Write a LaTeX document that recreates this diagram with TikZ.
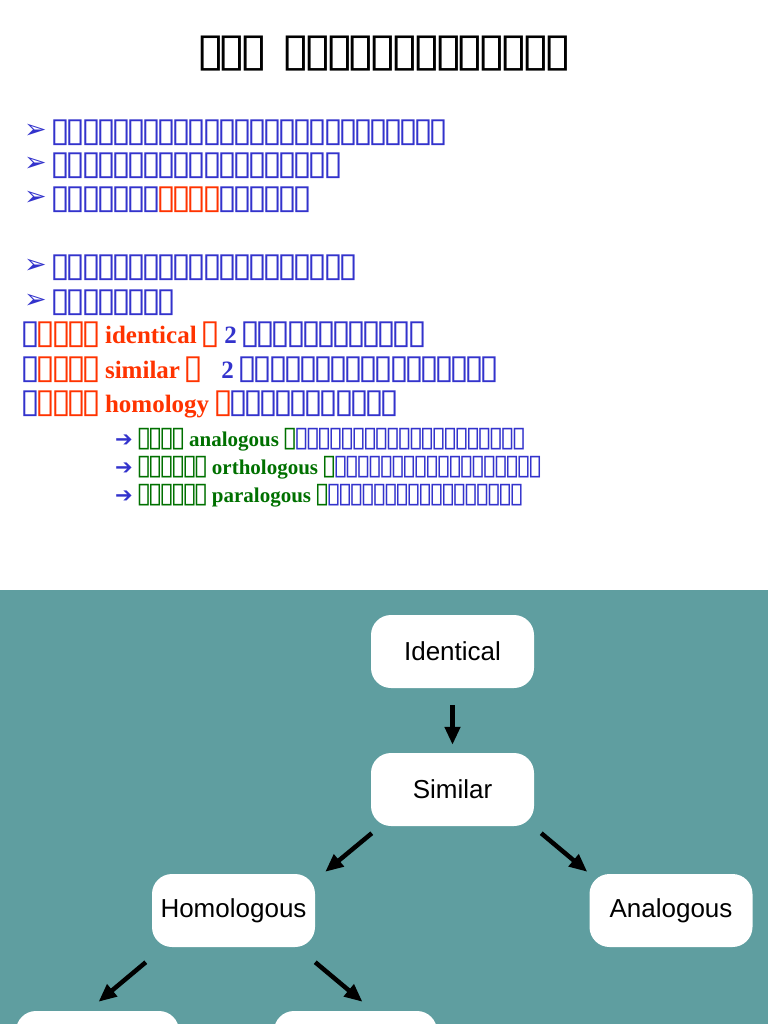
\documentclass[tikz,border=0pt]{standalone}
\usepackage{fontspec}
\setmainfont{Liberation Serif}
\newfontfamily\symfont{DejaVu Sans}
\newfontfamily\tofufont{DejaVu Sans}
\newfontfamily\panelfont{Liberation Sans}
\usetikzlibrary{positioning,arrows.meta,calc}
\definecolor{txtblue}{RGB}{51,51,204}
\definecolor{txtred}{RGB}{255,51,0}
\definecolor{txtgreen}{RGB}{0,112,0}
\definecolor{panelteal}{RGB}{95,158,160}
\newcommand\tofuhs{1}
\newcommand\tofuvs{1.35}
\newcommand\tofu[1]{{\tofufont\mdseries\foreach \k in {1,...,#1}{\makebox[\tofuhs\dimexpr0.545em\relax][c]{\scalebox{\fpeval{1.3*\tofuhs}}[\tofuvs]{▯}}}}}

\begin{document}
\begin{tikzpicture}[
  x=1pt, y=-1pt,
  titletext/.style={anchor=base, inner sep=0pt, font=\fontsize{40}{48}\selectfont\renewcommand\tofuvs{1.15}},
  bodytext/.style={anchor=base west, inner sep=0pt, text=txtblue, font=\fontsize{25}{30}\selectfont\bfseries\renewcommand\tofuhs{1.11}},
  subtext/.style={anchor=base west, inner sep=0pt, text=txtblue, font=\fontsize{21}{25}\selectfont\bfseries},
  bulletmark/.style={anchor=base west, inner sep=0pt, text=txtblue, font=\symfont\fontsize{27}{30}\selectfont},
  panelbox/.style={rectangle, rounded corners=20pt, fill=white, minimum width=163pt, minimum height=73pt, inner sep=0pt, font=\panelfont\fontsize{26}{30}\selectfont},
  flowarrow/.style={-{Triangle[length=18pt,width=15pt]}, line width=4.5pt, draw=black}
]
  \useasboundingbox (0,0) rectangle (768,1024);
  \clip (0,0) rectangle (768,1024);

  % title
  \node[titletext] (title) at (384,66) {\tofu{3}\hspace{20pt}\tofu{13}};

  % bullet lines
  \node[bulletmark] (m1) at (24,139) {➢};
  \node[bodytext] (l1) at (53,142) {\tofu{26}};
  \node[bulletmark] (m2) at (24,172) {➢};
  \node[bodytext] (l2) at (53,175) {\tofu{19}};
  \node[bulletmark] (m3) at (24,206) {➢};
  \node[bodytext] (l3) at (53,209) {\tofu{7}\textcolor{txtred}{\tofu{4}}\tofu{6}};
  \node[bulletmark] (m4) at (24,273) {➢};
  \node[bodytext] (l4) at (53,276) {\tofu{20}};
  \node[bulletmark] (m5) at (24,308) {➢};
  \node[bodytext] (l5) at (53,311) {\tofu{8}};

  \node[bodytext] (l6) at (23,343) {\tofu{1}\textcolor{txtred}{\tofu{4} identical \tofu{1}} 2 \tofu{12}};
  \node[bodytext] (l7) at (23,378) {\tofu{1}\textcolor{txtred}{\tofu{4} similar \tofu{1}}\hspace{20pt}2 \tofu{17}};
  \node[bodytext] (l8) at (23,412) {\tofu{1}\textcolor{txtred}{\tofu{4} homology \tofu{1}}\tofu{11}};

  % sub lines
  \node[subtext] (s1) at (115,446) {{\symfont ➔} \textcolor{txtgreen}{\tofu{4} analogous \tofu{1}}\tofu{20}};
  \node[subtext] (s2) at (115,474) {{\symfont ➔} \textcolor{txtgreen}{\tofu{6} orthologous \tofu{1}}\tofu{18}};
  \node[subtext] (s3) at (115,502) {{\symfont ➔} \textcolor{txtgreen}{\tofu{6} paralogous \tofu{1}}\tofu{17}};

  % panel
  \fill[panelteal] (0,590) rectangle (768,1024);
  \node[panelbox] (ident) at (452.5,651.5) {Identical};
  \node[panelbox] (simil) at (452.5,789.5) {Similar};
  \node[panelbox] (homol) at (233.5,910.5) {Homologous};
  \node[panelbox] (analo) at (671,910.5) {Analogous};
  \node[panelbox] (ortho) at (97.5,1047.5) {};
  \node[panelbox] (paral) at (355.5,1047.5) {};

  \draw[flowarrow] ($(ident.south)+(0,17)$) -- ($(simil.north)+(0,-8)$);
  \draw[flowarrow] ($(simil.south west)+(1,7)$) -- ($(homol.north east)+(10,-2)$);
  \draw[flowarrow] ($(simil.south east)+(7,7)$) -- ($(analo.north west)+(-2,-2)$);
  \draw[flowarrow] ($(homol.south west)+(-6,15)$) -- ($(ortho.north)+(1,-9)$);
  \draw[flowarrow] ($(homol.south east)+(0,15)$) -- ($(paral.north)+(7,-9)$);
\end{tikzpicture}
\end{document}
